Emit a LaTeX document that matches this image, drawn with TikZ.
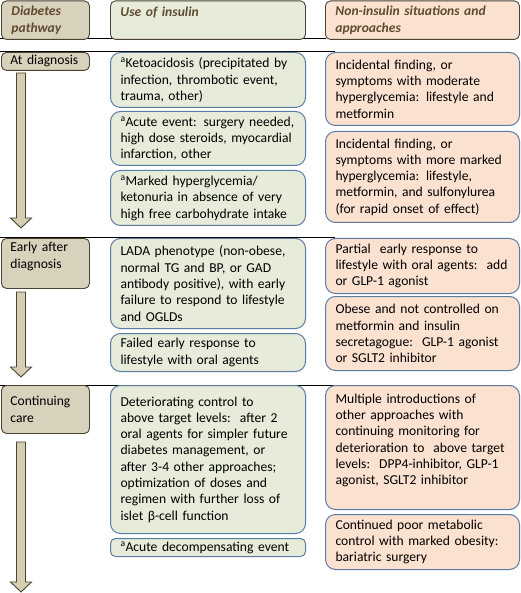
\documentclass[tikz,border=0pt]{standalone}
\usepackage{fontspec}
\setmainfont{Carlito}
\usepackage{tikz}
\usetikzlibrary{positioning}
\definecolor{stagefill}{HTML}{D8D1BC}
\definecolor{stagedraw}{HTML}{4A4234}
\definecolor{headtext}{HTML}{5F4B32}
\definecolor{insfill}{HTML}{E6ECD9}
\definecolor{nonfill}{HTML}{FBE1CF}
\definecolor{boxdraw}{HTML}{5B7BA3}
\definecolor{flowfill}{HTML}{D6CEB2}

\begin{document}
\begin{tikzpicture}
  [x=1pt,y=-1pt,
 head/.style={
  rectangle,
  rounded corners=5pt,
  line width=0.9pt, % border
  draw=stagedraw,
  anchor=north west,
  align=left,
  inner xsep=10pt,
  inner ysep=3pt,
  minimum height=38.5pt,
  font=\fontsize{13.6}{16.3}\selectfont\bfseries\itshape,
  text=headtext},
 stage/.style={
  rectangle,
  rounded corners=5pt,
  line width=0.9pt,
  draw=stagedraw,
  fill=stagefill,
  anchor=north west,
  align=left,
  text width=70pt,
  inner xsep=9pt,
  inner ysep=1pt,
  font=\fontsize{13.6}{16.3}\selectfont},
 ins/.style={
  rectangle,
  rounded corners=10pt,
  line width=1pt,
  draw=boxdraw,
  fill=insfill,
  anchor=north west,
  align=left,
  text width=175pt,
  inner xsep=10pt,
  inner ysep=1pt,
  font=\fontsize{13.6}{16.3}\selectfont},
 non/.style={
  ins,
  fill=nonfill,
  text width=174pt},
 flow/.style={
  draw=stagedraw,
  fill=flowfill,
  line width=0.9pt},
 rule/.style={line width=1pt, draw=black}]
\useasboundingbox (0,0) rectangle (520,593);
% rules between the rows
\draw[rule] (0,38.8) -- (326,38.8);
\draw[rule] (0,51.8) -- (335,51.8);
\draw[rule] (0,237.8) -- (335,237.8);
\draw[rule] (0,385.3) -- (335,385.3);
% header
\node (pathway) [head, fill=stagefill, text width=68pt] at (1,0.5) {Diabetes\\pathway};
\node (insulin) [head, fill=insfill, text width=175pt] at (110,0.5) {Use of insulin\\\mbox{}};
\node (noninsulin) [head, fill=nonfill, text width=174pt] at (325,0.5) {Non-insulin situations and\\approaches};
% at diagnosis
\node (diagnosis) [stage, minimum height=18pt] at (1,52) {At diagnosis};
\node (keto) [ins, minimum height=55pt] at (110,52) {\textsuperscript{a}Ketoacidosis (precipitated by\\infection, thrombotic event,\\trauma, other)};
\node (acute) [ins, minimum height=54pt, below=3pt of keto] {\textsuperscript{a}Acute event: surgery needed,\\high dose steroids, myocardial\\infarction, other};
\node (marked) [ins, minimum height=55pt, below=4pt of acute] {\textsuperscript{a}Marked hyperglycemia/\\ketonuria in absence of very\\high free carbohydrate intake};
\node (moderate) [non, minimum height=73pt] at (325,52) {Incidental finding, or\\symptoms with moderate\\hyperglycemia: lifestyle and\\metformin};
\node (sulfonyl) [non, minimum height=91pt, below=5pt of moderate] {Incidental finding, or\\symptoms with more marked\\hyperglycemia: lifestyle,\\metformin, and sulfonylurea\\(for rapid onset of effect)};
% early after diagnosis
\node (early) [stage, minimum height=50pt] at (1,238) {Early after\\diagnosis\\\mbox{}};
\node (lada) [ins, minimum height=90pt] at (110,238) {LADA phenotype (non-obese,\\normal TG and BP, or GAD\\antibody positive), with early\\failure to respond to lifestyle\\and OGLDs};
\node (failed) [ins, minimum height=38pt, below=4pt of lada] {Failed early response to\\lifestyle with oral agents};
\node (partial) [non, minimum height=55pt] at (325,238) {Partial\ \ early response to\\lifestyle with oral agents:\ \ add\\or GLP-1 agonist};
\node (obese) [non, minimum height=74pt, below=2pt of partial] {Obese and not controlled on\\metformin and insulin\\secretagogue:\ \ GLP-1 agonist\\or SGLT2 inhibitor};
% continuing care
\node (continuing) [stage, minimum height=48pt] at (1,385) {Continuing\\care};
\node (deteriorating) [ins, minimum height=148pt] at (110,385) {Deteriorating control to\\above target levels:\ \ after 2\\oral agents for simpler future\\diabetes management, or\\after 3-4 other approaches;\\optimization of doses and\\regimen with further loss of\\islet β-cell function};
\node (decomp) [ins, rounded corners=5pt, minimum height=18pt, below=4pt of deteriorating] {\textsuperscript{a}Acute decompensating event};
\node (multiple) [non, minimum height=124pt] at (325,385) {Multiple introductions of\\other approaches with\\continuing monitoring for\\deterioration to\ \ above target\\levels:\ \ DPP4-inhibitor, GLP-1\\agonist, SGLT2 inhibitor\\\mbox{}};
\node (bariatric) [non, minimum height=55pt, below=4pt of multiple] {Continued poor metabolic\\control with marked obesity:\\bariatric surgery};
% time arrows
\draw[flow] (16.5,73) -- (25.5,73) -- (25.5,218) -- (31.5,218) -- (21,228) -- (10.5,218) -- (16.5,218) -- cycle;
\draw[flow] (16.5,292) -- (25.5,292) -- (25.5,367) -- (31.5,367) -- (21,377) -- (10.5,367) -- (16.5,367) -- cycle;
\draw[flow] (16.5,442) -- (25.5,442) -- (25.5,582) -- (31.5,582) -- (21,592) -- (10.5,582) -- (16.5,582) -- cycle;
\end{tikzpicture}
\end{document}
